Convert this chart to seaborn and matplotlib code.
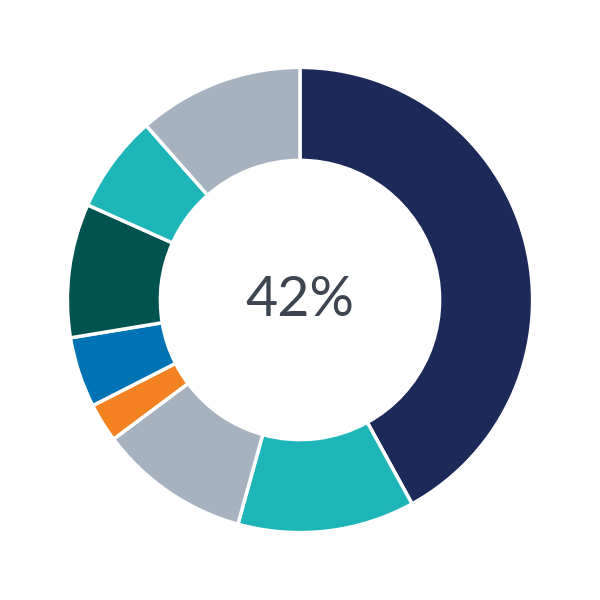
import matplotlib
matplotlib.use("Agg")
import matplotlib.pyplot as plt
import seaborn as sns

# Slice data, clockwise from 12 o'clock
categories = ["A", "B", "C", "D", "E", "F", "G", "H"]
shares = [42, 12.3, 10.5, 2.7, 4.9, 9.3, 6.8, 11.5]
slice_colors = ["#1c2a5a", "#1db5b8", "#a7b2c1", "#f58220",
                "#0073b5", "#00534f", "#1db5b8", "#a7b2c1"]
center_label = "42%"

sns.set_theme(style="white")
plt.rcParams["font.family"] = ["Lato", "DejaVu Sans"]

fig = plt.figure(figsize=(6, 6), dpi=100)
ax = fig.add_axes([0, 0, 1, 1])

palette = sns.color_palette(slice_colors)
ax.pie(
    shares,
    colors=palette,
    startangle=90,
    counterclock=False,
    radius=1.008,
    wedgeprops=dict(width=0.403, edgecolor="white", linewidth=2.5),
)
ax.text(0, 0, center_label, ha="center", va="center",
        fontsize=40, color="#3d4550")

ax.set_xlim(-1.3, 1.3)
ax.set_ylim(-1.3, 1.3)
ax.set_aspect("equal")
ax.axis("off")

fig.savefig("out.png", dpi=100, facecolor="white")
